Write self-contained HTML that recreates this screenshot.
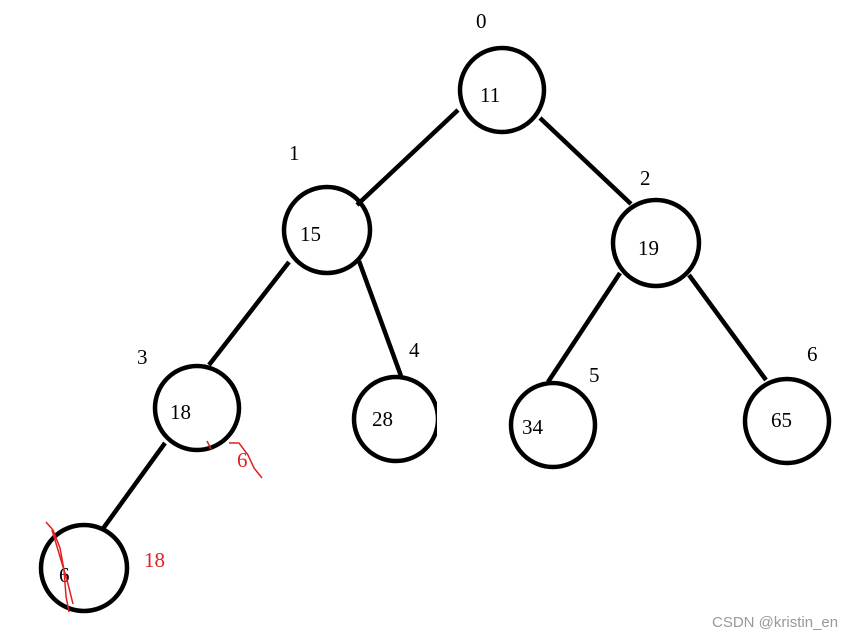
<!DOCTYPE html>
<html><head><style>body{margin:0;background:#fff}</style></head><body>
<svg width="856" height="638" xmlns="http://www.w3.org/2000/svg" font-family="Liberation Serif, serif" font-size="21">
<defs><clipPath id="c4"><rect x="0" y="0" width="437" height="638"/></clipPath></defs>
<rect width="856" height="638" fill="#fff"/>
<g stroke="#000" stroke-width="4.5" fill="none">
<circle cx="502" cy="90" r="42"/>
<circle cx="327" cy="230" r="43"/>
<circle cx="656" cy="243" r="43"/>
<circle cx="197" cy="408" r="42"/>
<circle cx="396" cy="419" r="42" clip-path="url(#c4)"/>
<circle cx="553" cy="425" r="42"/>
<circle cx="787" cy="421" r="42"/>
<circle cx="84" cy="568" r="43"/>
<line x1="458" y1="110" x2="357" y2="205"/>
<line x1="540" y1="118" x2="631" y2="204"/>
<line x1="289" y1="262" x2="209" y2="365"/>
<line x1="359" y1="261" x2="401" y2="376"/>
<line x1="620" y1="273" x2="548" y2="382"/>
<line x1="689" y1="275" x2="766" y2="380"/>
<line x1="165" y1="443" x2="102" y2="530"/>
</g>
<g fill="#000">
<text x="476" y="28">0</text><text x="480" y="102">11</text>
<text x="289" y="160">1</text><text x="300" y="241">15</text>
<text x="640" y="185">2</text><text x="638" y="255">19</text>
<text x="137" y="364">3</text><text x="170" y="419">18</text>
<text x="409" y="357">4</text><text x="372" y="426">28</text>
<text x="589" y="382">5</text><text x="522" y="434">34</text>
<text x="807" y="361">6</text><text x="771" y="427">65</text>
<text x="59" y="582">6</text>
</g>
<g fill="#e02020"><text x="237" y="467">6</text><text x="144" y="567">18</text></g>
<g stroke="#e02020" stroke-width="1.5" fill="none">
<path d="M207 441 L211 449"/>
<path d="M229 443 L239 443 L248 455 L254 468 L262 478"/>
<path d="M46 522 L53 530 L60 548 L64 570 L66 596 L69 612"/>
<path d="M52 530 L58 550 L67 580 L73 604"/>
</g>
<text x="712" y="627" font-family="Liberation Sans, sans-serif" font-size="15" fill="#999">CSDN @kristin_en</text>
</svg>
</body></html>
